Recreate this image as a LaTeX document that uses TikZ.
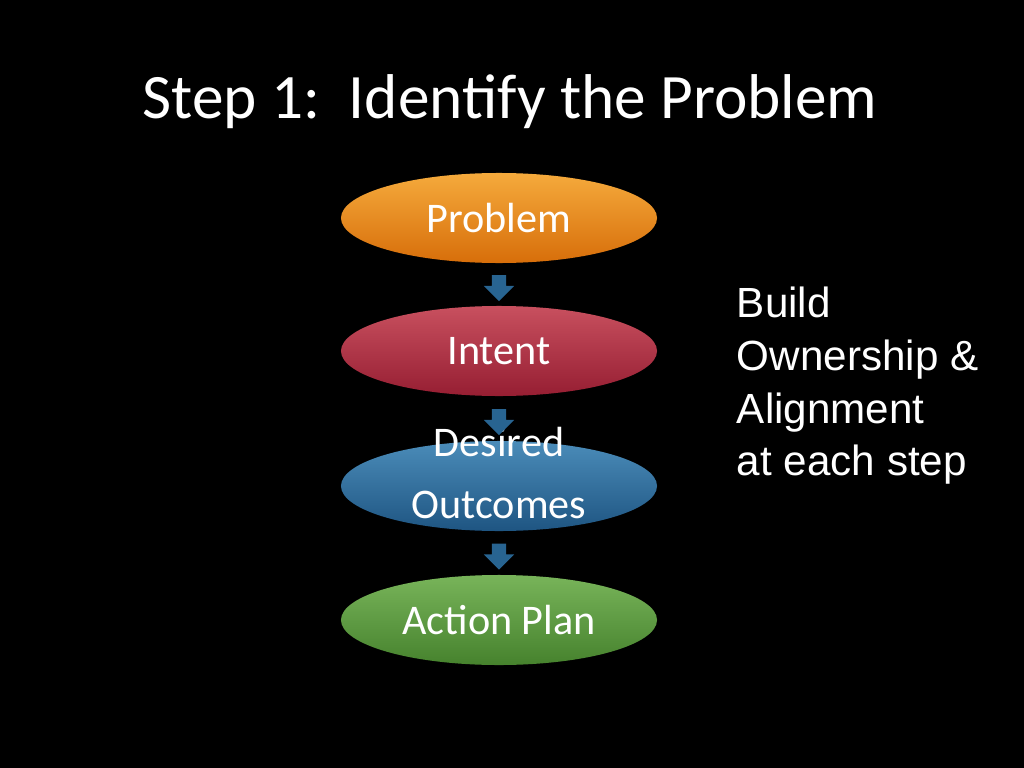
\documentclass[tikz,border=0pt]{standalone}
\usepackage{fontspec}
\setmainfont{Carlito}
\newfontfamily\arialfont{Liberation Sans}
\usetikzlibrary{positioning,shapes,calc}
\definecolor{arrowblue}{RGB}{40,100,145}
\tikzstyle{phase} = [ellipse, minimum width=7.9cm, minimum height=2.25cm, inner sep=0pt, text=white, font=\fontsize{30}{36}\selectfont, align=center, draw=none]
\tikzstyle{down} = [single arrow, shape border rotate=270, fill=arrowblue, inner sep=0.17cm, single arrow head extend=0.2cm, minimum height=0.65cm, single arrow tip angle=90]
\begin{document}
\begin{tikzpicture}[x=0.025cm,y=-0.025cm]
\fill[black] (0,0) rectangle (1024,768);

\node (title) [text=white, font=\fontsize{45}{54}\selectfont] at (510,102) {Step 1:\ \ Identify the Problem};

\node (prob) [phase, top color={rgb,255:red,245;green,170;blue,60}, bottom color={rgb,255:red,215;green,110;blue,10}] at (499,218) {Problem};
\node (intent) [phase, top color={rgb,255:red,200;green,80;blue,95}, bottom color={rgb,255:red,150;green,30;blue,50}] at (499,351) {Intent};
\node (outc) [phase, top color={rgb,255:red,75;green,140;blue,185}, bottom color={rgb,255:red,30;green,85;blue,130}] at (499,486) {\smash{\begin{tabular}{@{}c@{}}Desired\\[0.28cm]Outcomes\end{tabular}}};
\node (plan) [phase, top color={rgb,255:red,120;green,180;blue,90}, bottom color={rgb,255:red,70;green,130;blue,45}] at (499,620) {Action Plan};

\node (a1) [down] at ($(prob.south)!0.5!(intent.north)$) {};
\node (a2) [down] at ($(intent.south)!0.5!(outc.north)$) {};
\node (a3) [down] at ($(outc.south)!0.5!(plan.north)$) {};

\node (note) [text=white, anchor=north west, align=left, font=\arialfont\fontsize{30}{37.5}\selectfont] at (732,282) {Build\\Ownership \&\\Alignment\\at each step};
\end{tikzpicture}
\end{document}
